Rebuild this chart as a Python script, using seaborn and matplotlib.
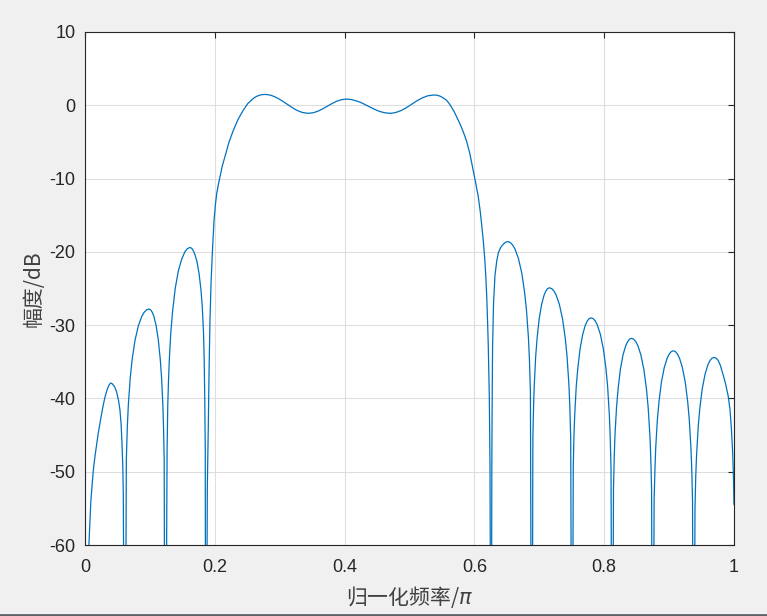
import numpy as np
import pandas as pd
import matplotlib
matplotlib.use("Agg")
import matplotlib.pyplot as plt
import seaborn as sns
from matplotlib.lines import Line2D

# values (normalised frequency, magnitude in dB)
# lower stopband, three side lobes
stop_low_w = [0.0, 0.006, 0.009, 0.0128, 0.0155, 0.018, 0.0205, 0.0231, 0.027, 0.0308, 0.0345, 0.0375, 0.0396,
              0.042, 0.0455, 0.0487, 0.0515, 0.0539, 0.0556, 0.057, 0.0582, 0.059, 0.0615,
              0.0637, 0.0652, 0.0667, 0.0697, 0.0726, 0.0771, 0.0823, 0.0875, 0.0912, 0.0949, 0.0986,
              0.1011, 0.1036, 0.1061, 0.1096, 0.1130, 0.1160, 0.1180, 0.1200, 0.1210, 0.1220, 0.1235,
              0.1265, 0.1275, 0.1287, 0.1299, 0.1322, 0.1351, 0.139, 0.1438, 0.149, 0.1541, 0.158, 0.1618,
              0.1642, 0.1666, 0.1691, 0.1725, 0.1758, 0.1787, 0.1807, 0.1826, 0.1836, 0.1846, 0.1853, 0.186]
stop_low_db = [-75, -60, -54, -49.8, -47.8, -46.2, -44.7, -43.4, -41.4, -39.8, -38.7, -38.1, -37.9,
               -38.0, -38.4, -39.1, -40.2, -41.6, -43.5, -46.1, -49.2, -52.9, -100,
               -48.3, -43.9, -41.0, -37.2, -34.7, -32.05, -30.06, -28.8, -28.24, -27.91, -27.8,
               -27.91, -28.24, -28.8, -30.06, -32.05, -34.7, -37.2, -41.0, -43.9, -48.3, -100,
               -47, -41, -37.5, -34.8, -31.0, -28.0, -25.0, -22.6, -21.0, -19.95, -19.55, -19.4,
               -19.5, -19.8, -20.3, -21.3, -23.0, -25.2, -27.5, -31.0, -34.5, -40.5, -47, -100]

# passband with ripple
pass_w = [0.1885, 0.19, 0.1912, 0.1926, 0.1943, 0.1962, 0.1988, 0.201, 0.203, 0.2055, 0.208, 0.2115, 0.2157,
          0.222, 0.2286, 0.236, 0.2439, 0.251, 0.2593, 0.264, 0.268, 0.2725, 0.2773, 0.282, 0.287, 0.294,
          0.30, 0.305, 0.3107, 0.316, 0.321, 0.327, 0.335, 0.344, 0.352, 0.359, 0.365, 0.372, 0.38, 0.388,
          0.395, 0.403, 0.411, 0.42, 0.427, 0.434, 0.443, 0.453, 0.461, 0.47, 0.478, 0.487, 0.495, 0.5035,
          0.512, 0.52, 0.528, 0.537, 0.542, 0.547, 0.552, 0.557, 0.561, 0.565, 0.569, 0.5727, 0.576, 0.58,
          0.584, 0.588, 0.593, 0.598, 0.602, 0.606, 0.609, 0.611, 0.6137, 0.616, 0.6177, 0.619, 0.6203,
          0.6214, 0.623, 0.624, 0.626]
pass_db = [-52, -43.7, -36, -29.3, -24, -20.2, -15.7, -13.5, -12.0, -10.8, -9.75, -8.3, -7.0,
           -5.0, -3.4, -1.9, -0.66, 0.25, 0.93, 1.2, 1.35, 1.45, 1.48, 1.45, 1.35, 1.1,
           0.81, 0.53, 0.19, -0.13, -0.41, -0.71, -0.98, -1.1, -1.01, -0.8, -0.55, -0.2, 0.21, 0.56,
           0.76, 0.85, 0.78, 0.55, 0.3, -0.01, -0.42, -0.81, -1.01, -1.1, -1.01, -0.72, -0.34, 0.15,
           0.64, 1.02, 1.29, 1.4, 1.38, 1.25, 1.0, 0.7, 0.25, -0.3, -0.9, -1.57, -2.2, -3.0,
           -3.9, -4.9, -6.6, -8.8, -10.6, -12.5, -14.5, -16.1, -18.5, -21.0, -23.5, -26.1, -29.5,
           -32.9, -39.8, -48.9, -100]

# upper stopband, six side lobes
stop_high_w = [0.6268, 0.6274, 0.628, 0.6295, 0.6317, 0.6345, 0.637, 0.6405, 0.644, 0.6477, 0.6513,
               0.6550, 0.6587, 0.6625, 0.6677, 0.6729, 0.6773, 0.6803, 0.6833, 0.6848, 0.6863, 0.6885,
               0.6901, 0.6912, 0.6923, 0.6944, 0.6966, 0.6998, 0.7036, 0.7074, 0.7101, 0.7128, 0.7155,
               0.7190, 0.7225, 0.7260, 0.7309, 0.7358, 0.7400, 0.7428, 0.7456, 0.7470, 0.7484, 0.7505,
               0.7523, 0.7534, 0.7546, 0.7569, 0.7593, 0.7628, 0.7669, 0.7709, 0.7739, 0.7768, 0.7797,
               0.7830, 0.7863, 0.7895, 0.7941, 0.7987, 0.8027, 0.8053, 0.8079, 0.8092, 0.8105, 0.8125,
               0.8143, 0.8155, 0.8166, 0.8190, 0.8214, 0.8249, 0.8290, 0.8332, 0.8361, 0.8391, 0.842,
               0.8453, 0.8486, 0.8519, 0.8565, 0.8611, 0.8651, 0.8677, 0.8704, 0.8717, 0.8730, 0.875,
               0.8769, 0.8782, 0.8794, 0.8819, 0.8845, 0.8882, 0.8926, 0.8971, 0.9002, 0.9034, 0.9065,
               0.9097, 0.9128, 0.9160, 0.9204, 0.9248, 0.9286, 0.9311, 0.9336, 0.9349, 0.9361, 0.938,
               0.9399, 0.9411, 0.9424, 0.9449, 0.9474, 0.9511, 0.9555, 0.9598, 0.9630, 0.9661, 0.9692,
               0.9723, 0.9755, 0.979, 0.983, 0.987, 0.9911, 0.9938, 0.9961, 0.998, 0.999, 1.0]
stop_high_db = [-50, -40, -33, -27, -23.2, -21.2, -20.1, -19.4, -19.0, -18.7, -18.6,
                -18.71, -19.04, -19.6, -20.86, -22.85, -25.5, -28.0, -31.8, -34.7, -39.1, -100,
                -45.4, -41.0, -38.1, -34.3, -31.8, -29.15, -27.16, -25.9, -25.34, -25.01, -24.9,
                -25.01, -25.34, -25.9, -27.16, -29.15, -31.8, -34.3, -38.1, -41.0, -45.4, -100,
                -49.5, -45.1, -42.2, -38.4, -35.9, -33.25, -31.26, -30.0, -29.44, -29.11, -29.0,
                -29.11, -29.44, -30.0, -31.26, -33.25, -35.9, -38.4, -42.2, -45.1, -49.5, -100,
                -52.3, -47.9, -45.0, -41.2, -38.7, -36.05, -34.06, -32.8, -32.24, -31.91, -31.8,
                -31.91, -32.24, -32.8, -34.06, -36.05, -38.7, -41.2, -45.0, -47.9, -52.3, -100,
                -54.0, -49.6, -46.7, -42.9, -40.4, -37.75, -35.76, -34.5, -33.94, -33.61, -33.5,
                -33.61, -33.94, -34.5, -35.76, -37.75, -40.4, -42.9, -46.7, -49.6, -54.0, -100,
                -54.9, -50.5, -47.6, -43.8, -41.3, -38.65, -36.66, -35.4, -34.84, -34.51, -34.4,
                -34.5, -34.8, -35.5, -36.7, -38.0, -39.7, -41.5, -44.3, -47.5, -50.2, -54.5]

x_ticks = [0, 0.2, 0.4, 0.6, 0.8, 1]
y_ticks = [-60, -50, -40, -30, -20, -10, 0, 10]

df = pd.DataFrame({
    'w': stop_low_w + pass_w + stop_high_w,
    'db': stop_low_db + pass_db + stop_high_db,
})

sns.set_theme(style="white")
plt.rcParams['font.family'] = ['Liberation Sans', 'DejaVu Sans']
plt.rcParams['axes.unicode_minus'] = False
plt.rcParams['axes.edgecolor'] = '#262626'
plt.rcParams['axes.linewidth'] = 0.8

fig = plt.figure(figsize=(7.67, 6.16), dpi=100, facecolor='#f0f0f0')
ax = fig.add_axes([85 / 767, 71 / 616, 649 / 767, 513 / 616])
ax.set_facecolor('white')

sns.lineplot(data=df, x='w', y='db', ax=ax, color='#0072BD', linewidth=0.9,
             estimator=None, sort=False)

ax.set_xlim(0, 1)
ax.set_ylim(-60, 10)
ax.set_xticks(x_ticks)
ax.set_xticklabels(['0', '0.2', '0.4', '0.6', '0.8', '1'])
ax.set_yticks(y_ticks)
ax.grid(True, color='#dedede', linewidth=0.8)
ax.tick_params(direction='in', length=4, width=0.8, top=True, right=True,
               labelsize=13, colors='#262626')
ax.tick_params(axis='x', pad=10)
ax.tick_params(axis='y', pad=7)
for s in ax.spines.values():
    s.set_visible(True)

cjk = ['Noto Sans CJK SC', 'DejaVu Sans']
ax.set_xlabel('归一化频率/$\\pi$', family=cjk, fontsize=15, color='#404040', labelpad=6)
ax.set_ylabel('幅度/dB', family=cjk, fontsize=15, color='#404040', labelpad=3)

# window edge at the bottom of the screenshot
fig.add_artist(Line2D([0, 1], [0.002, 0.002], transform=fig.transFigure, color='#5f6368', linewidth=2))

fig.savefig('out.png', dpi=100, facecolor=fig.get_facecolor())
